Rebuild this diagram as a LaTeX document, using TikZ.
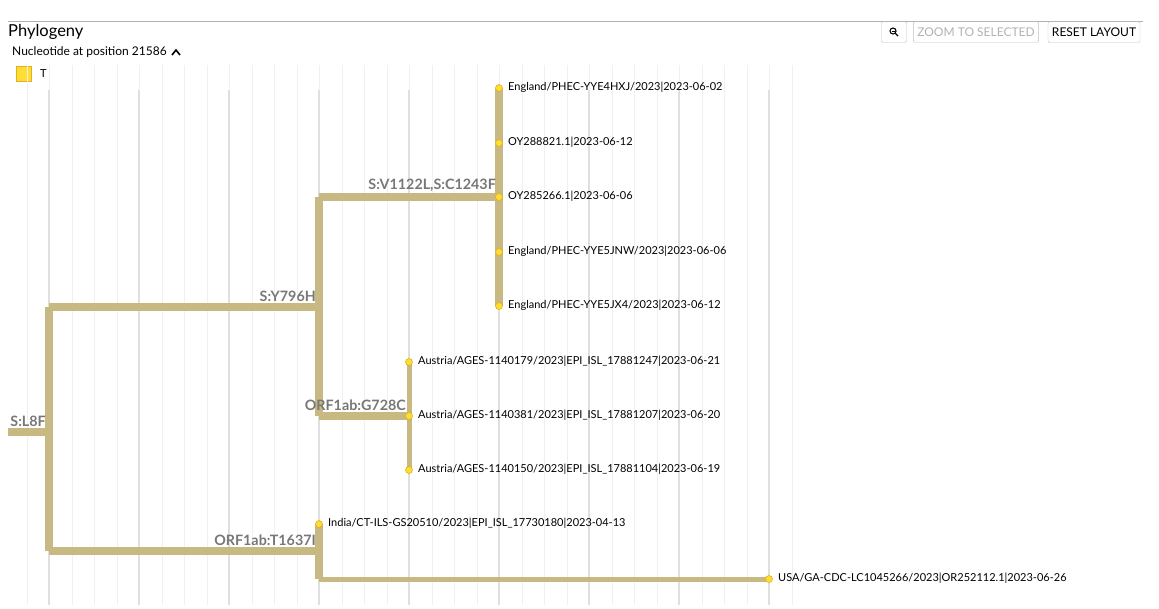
\documentclass[tikz,border=0pt]{standalone}
\usepackage{fontspec}
\setmainfont{Lato}
\begin{document}
\begin{tikzpicture}[x=1pt,y=-1pt,
  br/.style={draw=brc,line width=7.5pt},
  thin/.style={draw=brc,line width=5pt},
  tip/.style={circle,fill=tipc,draw=tipd,line width=0.6pt,inner sep=0pt,minimum size=7pt},
  tl/.style={anchor=west,font=\fontsize{11}{12}\selectfont,inner sep=0pt},
  bl/.style={anchor=south east,font=\bfseries\fontsize{14.3}{15}\selectfont,text=labc,inner sep=1pt},
  btn/.style={draw=gray!50,rounded corners=1.5pt,font=\fontsize{12}{13}\selectfont,minimum height=21pt,inner xsep=4pt}]
\definecolor{brc}{HTML}{C8B982}
\definecolor{tipc}{HTML}{FFDD33}
\definecolor{tipd}{HTML}{E0B020}
\definecolor{labc}{HTML}{777777}
\useasboundingbox (0,0) rectangle (1159,608);
\draw[gray!60,line width=0.8pt] (8,21) -- (1143,21);
\node[anchor=west,inner sep=0pt,font=\fontsize{16.5}{18}\selectfont] (title) at (8,32) {Phylogeny};
\node[anchor=west,inner sep=0pt,font=\fontsize{12}{13}\selectfont] (sub) at (12,52) {Nucleotide at position 21586};
\draw[line width=1.6pt] (172,55) -- (176,50) -- (180,55);
\node[draw=tipd,fill=tipc,line width=1.2pt,minimum size=15pt,inner sep=0pt] (leg) at (24,74) {};
\node[anchor=west,inner sep=0pt,font=\fontsize{11}{12}\selectfont] (legt) at (40,74) {T};
\node[btn,minimum width=25pt] (zi) at (894,32) {};
\draw[line width=1.1pt] (893,31) circle (3pt) (895.5,33.5) -- (898,36);
\draw[line width=0.8pt] (891.5,31) -- (894.5,31);
\node[btn,text=gray!60] (zs) at (976,32) {ZOOM TO SELECTED};
\node[btn] (rl) at (1094,32) {RESET LAYOUT};
% grid
\foreach \i in {0,...,34} {\draw[gray!12,line width=1pt] (27+22.5*\i,65) -- (27+22.5*\i,605);}
\foreach \x in {49,139,229,319,409,499,589,679,769} {\draw[gray!25,line width=1.6pt] (\x,90) -- (\x,605);}
% tree coordinates
\coordinate (r0) at (8,432); \coordinate (r1) at (49,432);
\coordinate (a0) at (49,307); \coordinate (a1) at (319,307);
\coordinate (b0) at (319,197); \coordinate (b1) at (499,197);
\coordinate (c0) at (319,416); \coordinate (c1) at (409,416);
\coordinate (d0) at (49,551); \coordinate (d1) at (319,551);
\coordinate (e0) at (319,579); \coordinate (e1) at (769,579);
\draw[br] (r0) -- (r1);
\draw[br] (a0) -- (d0);
\draw[br] (a0) -- (a1);
\draw[br] (b0) -- (c0);
\draw[br] (b0) -- (b1);
\draw[br] (c0) -- (c1);
\draw[br] (d0) -- (d1);
\draw[br] (319,524) -- (e0);
\draw[thin] (e0) -- (e1);
\draw[br] (499,88) -- (499,306);
\draw[thin] (409,362) -- (409,470);
% tips
\foreach \n/\x/\y/\t in {t1/499/88/{England/PHEC-YYE4HXJ/2023|2023-06-02},
 t2/499/143/{OY288821.1|2023-06-12}, t3/499/197/{OY285266.1|2023-06-06},
 t4/499/252/{England/PHEC-YYE5JNW/2023|2023-06-06}, t5/499/306/{England/PHEC-YYE5JX4/2023|2023-06-12},
 t6/409/362/{Austria/AGES-1140179/2023|EPI\_ISL\_17881247|2023-06-21},
 t7/409/416/{Austria/AGES-1140381/2023|EPI\_ISL\_17881207|2023-06-20},
 t8/409/470/{Austria/AGES-1140150/2023|EPI\_ISL\_17881104|2023-06-19},
 t9/319/524/{India/CT-ILS-GS20510/2023|EPI\_ISL\_17730180|2023-04-13},
 t10/769/579/{USA/GA-CDC-LC1045266/2023|OR252112.1|2023-06-26}}
 {\node[tip] (\n) at (\x,\y) {}; \node[tl] (\n l) at (\x+9,\y-1) {\t};}
% branch labels
\node[bl] (lb1) at (497,193) {S:V1122L,S:C1243F};
\node[bl] (lb2) at (317,303) {S:Y796H};
\node[bl] (lb3) at (407,412) {ORF1ab:G728C};
\node[bl] (lb4) at (47,428) {S:L8F};
\node[bl] (lb5) at (317,547) {ORF1ab:T1637I};
\end{tikzpicture}
\end{document}
